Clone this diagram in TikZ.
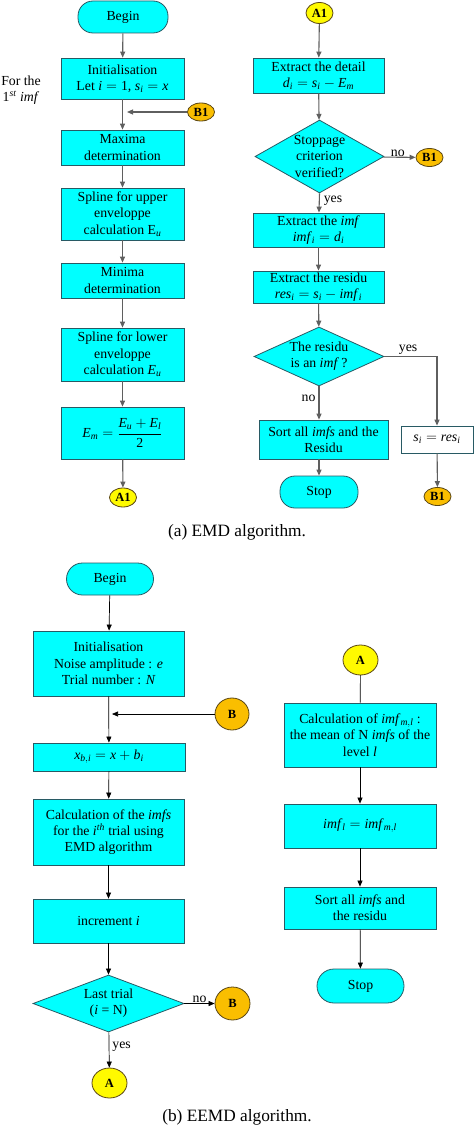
\documentclass[tikz,border=0pt]{standalone}
\usepackage{mathspec}
\setmainfont{Liberation Serif}
\setmathsfont(Digits,Latin)[Scale=1]{Liberation Serif}
\usetikzlibrary{arrows.meta,shapes.geometric}
\definecolor{boxfill}{RGB}{0,255,255}
\definecolor{boxdraw}{RGB}{40,90,100}
\definecolor{conyel}{RGB}{255,250,0}
\definecolor{conorg}{RGB}{250,190,0}
\definecolor{condraw}{RGB}{90,70,20}
\definecolor{linegray}{RGB}{95,95,95}
\tikzset{
  txt/.style={font=\fontsize{13.8}{16.3}\selectfont},
  procbox/.style={txt,draw=boxdraw,fill=boxfill,line width=0.8pt,rectangle,inner sep=0pt,align=center},
  termbox/.style={procbox,rounded corners=15pt},
  whitebox/.style={txt,draw=boxdraw,fill=white,line width=0.8pt,rectangle,inner sep=0pt,align=center},
  decbox/.style={draw=boxdraw,fill=boxfill,line width=0.8pt,diamond,inner sep=0pt},
  dectext/.style={txt,align=center},
  conn/.style={ellipse,draw=condraw,line width=0.8pt,inner sep=0pt,font=\fontsize{12.5}{14}\selectfont\bfseries},
  yelconn/.style={conn,fill=conyel},
  orgconn/.style={conn,fill=conorg},
  flowa/.style={draw=linegray,line width=1.1pt,-{Triangle[length=6pt,width=5pt]}},
  flowp/.style={draw=linegray,line width=1.1pt},
  flowb/.style={draw=black,line width=0.7pt,-{Triangle[length=6pt,width=5pt]}},
  flowbp/.style={draw=black,line width=0.7pt},
  lbl/.style={txt,inner sep=0pt},
  capt/.style={font=\fontsize{17.3}{20}\selectfont}
}
\begin{document}
\begin{tikzpicture}[x=1pt,y=-1pt]
\useasboundingbox[fill=white] (0,0) rectangle (474,1129);
% ---------- (a) EMD left column
\node[termbox,minimum width=90,minimum height=32] (begin1) at (123,17) {Begin};
\node[procbox,minimum width=123,minimum height=41] (init1) at (122.5,78.5) {Initialisation\\ Let $i=1$, $s_i=x$};
\node[lbl,align=center] (forthe) at (21,90) {For the\\ 1$^{st}$ \textit{imf}};
\node[orgconn,minimum width=27,minimum height=18] (b1a) at (201,112) {B1};
\coordinate (j1) at (127,112);
\node[procbox,minimum width=123,minimum height=35] (max1) at (122.5,147.5) {Maxima\\ determination};
\node[procbox,minimum width=123,minimum height=52] (up1) at (122.5,214) {Spline for upper\\ enveloppe\\ calculation E$_u$};
\node[procbox,minimum width=123,minimum height=35] (min1) at (122.5,280.5) {Minima\\ determination};
\node[procbox,minimum width=123,minimum height=53] (lo1) at (122.5,354.5) {Spline for lower\\ enveloppe\\ calculation $E_u$};
\node[procbox,minimum width=123,minimum height=52] (em1) at (122.5,433) {$\displaystyle E_m=\frac{E_u+E_l}{2}$};
\node[yelconn,minimum width=27,minimum height=19] (a1a) at (123,497.5) {A1};
\draw[flowa] (begin1) -- (init1);
\draw[flowa] (init1) -- (max1);
\draw[flowa] (b1a) -- (j1);
\draw[flowa] (max1) -- (up1);
\draw[flowa] (up1) -- (min1);
\draw[flowa] (min1) -- (lo1);
\draw[flowa] (lo1) -- (em1);
\draw[flowa] (em1) -- (a1a);
% ---------- (a) EMD right column
\node[yelconn,minimum width=27,minimum height=21] (a1b) at (319.5,13) {A1};
\node[procbox,minimum width=131,minimum height=35] (det) at (318.5,75.5) {Extract the detail\\ $d_i=s_i-E_m$};
\node[decbox,minimum width=129,minimum height=73,label={[dectext]center:Stoppage\\ criterion\\ verified?}] (d1) at (319.5,156.5) {};
\node[orgconn,minimum width=27,minimum height=18] (b1b) at (429.5,157.5) {B1};
\node[procbox,minimum width=131,minimum height=34] (imf) at (318.5,230) {Extract the \textit{imf}\\ \textit{imf}$_i=d_i$};
\node[procbox,minimum width=131,minimum height=32] (res) at (318.5,287) {Extract the residu\\ \textit{res}$_i=s_i-{}$\textit{imf}$_i$};
\node[decbox,minimum width=130,minimum height=59,label={[dectext]center:The residu\\ is an \textit{imf}\,?}] (d2) at (319,356.5) {};
\node[procbox,minimum width=129,minimum height=39] (sort1) at (323.5,439.5) {Sort all \textit{imfs} and the\\ Residu};
\node[whitebox,minimum width=72,minimum height=27] (si) at (437,439.5) {$s_i={}$\textit{res}$_i$};
\node[termbox,minimum width=78,minimum height=32] (stop1) at (319,492) {Stop};
\node[orgconn,minimum width=27,minimum height=18] (b1c) at (437.5,496.5) {B1};
\draw[flowa] (a1b) -- (det);
\draw[flowa] (det) -- (d1);
\draw[flowa] (d1) -- node[lbl,pos=0.45,above] {no} (b1b);
\draw[flowa] (d1.south) -- node[lbl,pos=0.4,right=4pt] {yes} (imf);
\draw[flowa] (imf) -- (res);
\draw[flowa] (res) -- (d2);
\draw[flowa] (d2.east) -- node[lbl,pos=0.45,above=1pt] {yes} (si.north |- d2.east) -- (si.north);
\draw[flowa] (d2.south) -- node[lbl,pos=0.35,left=3pt] {no} (d2.south |- sort1.north);
\draw[flowa] (d2.south |- sort1.south) -- (stop1);
\draw[flowa] (si) -- (b1c);
\node[capt] (capa) at (237,532) {(a) EMD algorithm.};
% ---------- (b) EEMD left column
\node[termbox,minimum width=87,minimum height=32,rounded corners=16pt] (begin2) at (110,579) {Begin};
\node[procbox,minimum width=151,minimum height=65] (init2) at (108.5,663.5) {Initialisation\\ Noise amplitude : $e$\\ Trial number : $N$};
\node[orgconn,minimum width=34,minimum height=32] (b2) at (232,714) {B};
\coordinate (j2) at (112,714);
\node[procbox,minimum width=152,minimum height=28] (xb) at (109,757) {$x_{b,i}=x+b_i$};
\node[procbox,minimum width=151,minimum height=66] (calc) at (108.5,832) {Calculation of the \textit{imfs}\\ for the $i^{th}$ trial using\\ EMD algorithm};
\node[procbox,minimum width=151,minimum height=44] (inc) at (108.5,921) {increment $i$};
\node[decbox,minimum width=151,minimum height=57,label={[dectext]center:Last trial\\ ($i$ = N)}] (d3) at (108.5,1003.5) {};
\node[orgconn,minimum width=35,minimum height=33] (b3) at (232.5,1003.5) {B};
\node[yelconn,minimum width=35,minimum height=30] (a2) at (109.5,1083) {A};
\draw[flowb] (begin2) -- (init2);
\draw[flowb] (init2) -- (xb);
\draw[flowb] (b2) -- (j2);
\draw[flowb] (xb) -- (calc);
\draw[flowb] (calc) -- (inc);
\draw[flowb] (inc) -- (d3);
\draw[flowb] (d3) -- node[lbl,pos=0.5,above=1pt] {no} (b3);
\draw[flowb] (d3) -- node[lbl,pos=0.4,right=3pt] {yes} (a2);
\node[capt] (capb) at (237,1117) {(b) EEMD algorithm.};
% ---------- (b) EEMD right column
\node[yelconn,minimum width=35,minimum height=30] (a3) at (360.5,660) {A};
\node[procbox,minimum width=152,minimum height=64] (calc2) at (360,735) {Calculation of \textit{imf}$_{m,l}$ :\\ the mean of N \textit{imfs} of the\\ level $l$};
\node[procbox,minimum width=152,minimum height=44] (imfl) at (360,826) {\textit{imf}$_l={}$\textit{imf}$_{m,l}$};
\node[procbox,minimum width=152,minimum height=42] (sort2) at (360,908) {Sort all \textit{imfs} and\\ the residu};
\node[termbox,minimum width=87,minimum height=34,rounded corners=17pt] (stop2) at (360.5,986) {Stop};
\draw[flowbp] (a3) -- (calc2);
\draw[flowb] (calc2) -- (imfl);
\draw[flowb] (imfl) -- (sort2);
\draw[flowb] (sort2) -- (stop2);
\end{tikzpicture}
\end{document}
